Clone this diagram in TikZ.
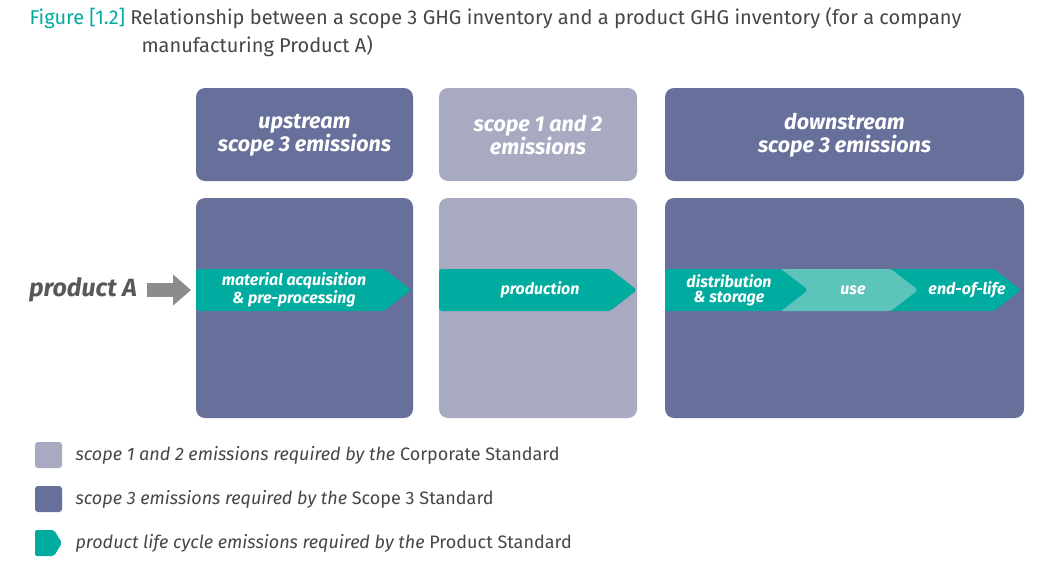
\documentclass[tikz,border=0pt]{standalone}
\usepackage{fontspec}
\setmainfont{Fira Sans}
\usetikzlibrary{positioning, arrows.meta}
\definecolor{scopedark}{RGB}{103,112,154}
\definecolor{scopelight}{RGB}{168,170,194}
\definecolor{lcteal}{RGB}{0,171,159}
\definecolor{lclight}{RGB}{92,196,186}
\definecolor{txtgray}{RGB}{70,70,70}
\tikzset{
  box/.style={rounded corners=9pt, inner sep=0pt},
  head/.style={font=\fontsize{21.5}{23}\selectfont\bfseries\itshape, text=white, align=center},
  stage/.style={font=\fontsize{16}{15}\selectfont\bfseries\itshape, text=white, align=center},
  legend/.style={font=\fontsize{18}{20}\selectfont, text=txtgray, anchor=west}
}
\newcommand{\chevron}[5]{% color, x0, x1, y0, y1
  \fill[#1, rounded corners=3pt] (#2,#4) -- ({#3-27},#4) -- (#3,{(#4+#5)/2}) -- ({#3-27},#5) -- (#2,#5) -- cycle;}
\begin{document}
\begin{tikzpicture}[x=1pt, y=-1pt]
   \useasboundingbox (0,0) rectangle (1041,571);
   % title
   \node[anchor=north west, align=left, font=\fontsize{20}{28}\selectfont, text=txtgray] (title) at (26,4)
     {\textcolor{lcteal}{Figure [1.2]} Relationship between a scope 3 GHG inventory and a product GHG inventory (for a company\\
      \hspace*{112pt}manufacturing Product A)};

   % boxes
   \fill[box, scopedark]  (196,88) rectangle (413,181);
   \fill[box, scopelight] (439,88) rectangle (637,181);
   \fill[box, scopedark]  (665,88) rectangle (1024,181);
   \fill[box, scopedark]  (196,198) rectangle (413,418);
   \fill[box, scopelight] (439,198) rectangle (637,418);
   \fill[box, scopedark]  (665,198) rectangle (1024,418);
   \node[head] (up) at (304.5,135) {upstream\\scope 3 emissions};
   \node[head] (own) at (538,135) {scope 1 and 2\\emissions};
   \node[head] (down) at (844.5,135) {downstream\\scope 3 emissions};

   % life cycle stages
   \chevron{lcteal}{196}{411}{269}{311}
   \chevron{lcteal}{439}{637}{269}{311}
   \chevron{lcteal}{890}{1021}{269}{311}
   \chevron{lclight}{780}{918}{269}{311}
   \chevron{lcteal}{665}{808}{269}{311}
   \node[stage] (mat) at (294,290) {material acquisition\\\& pre-processing};
   \node[stage] (prod) at (540,290) {production};
   \node[stage] (dist) at (729,290) {distribution\\\& storage};
   \node[stage] (use) at (853,290) {use};
   \node[stage] (eol) at (967,290) {end-of-life};

   % product A
   \node[font=\fontsize{25}{27}\selectfont\bfseries\itshape, text=txtgray!90] (pA) at (83,290) {product A};
   \coordinate (pAin) at (191,290);
   \draw[gray!90, line width=14pt, -{Triangle[length=18pt, width=30pt]}] (147,290) -- (pAin);

   % legend
   \fill[scopelight, rounded corners=3pt] (35,442) rectangle (62,468);
   \fill[scopedark, rounded corners=3pt] (35,486) rectangle (62,512);
   \fill[lcteal, rounded corners=2pt] (35,530) -- (54,530) -- (62,543) -- (54,556) -- (35,556) -- cycle;
   \node[legend] (l1) at (72,455) {\textit{scope 1 and 2 emissions required by the} Corporate Standard};
   \node[legend] (l2) at (72,499) {\textit{scope 3 emissions required by the} Scope 3 Standard};
   \node[legend] (l3) at (72,543) {\textit{product life cycle emissions required by the} Product Standard};
\end{tikzpicture}
\end{document}
